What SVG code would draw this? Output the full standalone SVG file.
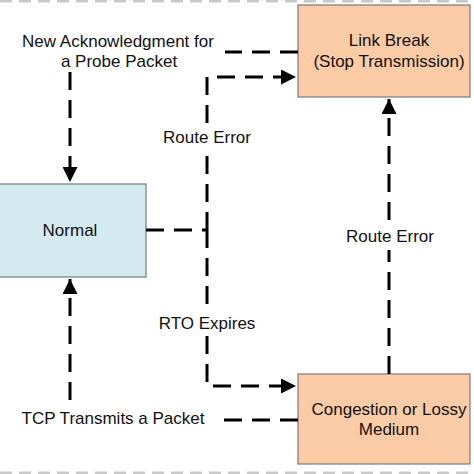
<svg xmlns="http://www.w3.org/2000/svg" width="474" height="474" viewBox="0 0 474 474">
<style>
.box{stroke:#7a7a7a;stroke-width:1.2}
.normal{fill:#d3eaf1}
.state{fill:#fbcba6}
.lbl{font-family:"Liberation Sans",Arial,sans-serif;font-size:17px;fill:#111;text-anchor:middle}
.dash{fill:none;stroke:#000;stroke-width:3;stroke-dasharray:18 10}
.edge{fill:none;stroke:#c9c9c9;stroke-width:3;stroke-dasharray:12 7}
</style>
<defs>
<marker id="arr" viewBox="0 0 10 10" refX="10" refY="5" markerWidth="5" markerHeight="5" orient="auto" markerUnits="strokeWidth">
<path d="M0,0 L10,5 L0,10 Z" fill="#000"/>
</marker>
</defs>
<rect width="474" height="474" fill="#fff"/>
<line class="edge" x1="0" y1="1" x2="474" y2="1"/>
<line class="edge" x1="0" y1="473" x2="474" y2="473"/>
<g id="normal">
<rect class="box normal" x="-2" y="184" width="148" height="93"/>
<text class="lbl" x="70" y="236">Normal</text>
</g>
<g id="linkbreak">
<rect class="box state" x="298" y="5" width="172" height="92"/>
<text class="lbl" x="389" y="46">Link Break</text>
<text class="lbl" x="389" y="67">(Stop Transmission)</text>
</g>
<g id="congestion">
<rect class="box state" x="298" y="374" width="172" height="90"/>
<text class="lbl" x="389" y="415">Congestion or Lossy</text>
<text class="lbl" x="389" y="435">Medium</text>
</g>
<g id="connectors">
<path class="dash" d="M298,52 H225"/>
<path class="dash" d="M70,72 V182" marker-end="url(#arr)"/>
<path class="dash" d="M146,230 H207"/>
<path class="dash" d="M207,123 V77 H296" marker-end="url(#arr)"/>
<path class="dash" d="M207,230 V148"/>
<path class="dash" d="M207,230 V308"/>
<path class="dash" d="M207,336 V386 H296" marker-end="url(#arr)"/>
<path class="dash" d="M298,420 H216"/>
<path class="dash" d="M70,400 V279" marker-end="url(#arr)"/>
<path class="dash" d="M389,374 V250"/>
<path class="dash" d="M389,220 V99" marker-end="url(#arr)"/>
</g>
<g id="labels">
<text class="lbl" x="118" y="47">New Acknowledgment for</text>
<text class="lbl" x="119" y="67">a Probe Packet</text>
<text class="lbl" x="207" y="143">Route Error</text>
<text class="lbl" x="390" y="242">Route Error</text>
<text class="lbl" x="207" y="329">RTO Expires</text>
<text class="lbl" x="113" y="424">TCP Transmits a Packet</text>
</g>
</svg>
